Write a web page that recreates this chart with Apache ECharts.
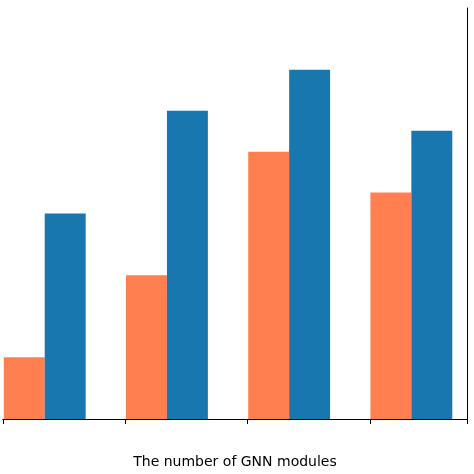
<!DOCTYPE html><html><head><meta charset="utf-8"><script src="https://cdn.jsdelivr.net/npm/echarts@6/dist/echarts.min.js"></script></head><body style="margin:0"><div id="c" style="width:474px;height:474px"></div><script>
const categories=[1,2,3,4];
const tickLabels=['1','2','3','4'];
const seriesA=[62,144,268,227];
const seriesB=[206,309,350,289];
const c=echarts.init(document.getElementById('c'));
function mk(vals,off,color){return{type:'custom',data:vals.map((v,i)=>[categories[i],v]),renderItem:(p,api)=>{const x=api.value(0),y=api.value(1);const a=api.coord([x+off,y]),b=api.coord([x+off+0.335,0]);return{type:'rect',shape:{x:a[0],y:a[1],width:b[0]-a[0],height:b[1]-a[1]},style:{fill:color}};},encode:{x:0,y:1}};}
const ax={color:'#000',fontSize:14,fontFamily:'DejaVu Sans'};
c.setOption({animation:false,grid:{left:0,right:7,top:8,bottom:54},
xAxis:[{type:'value',min:1-42/123,max:1+425/123,interval:1,position:'bottom',axisLine:{onZero:false,lineStyle:{color:'#000'}},axisTick:{show:true,length:5,lineStyle:{color:'#000'}},splitLine:{show:false},axisLabel:{...ax,margin:8,formatter:v=>Number.isInteger(v)&&v>=1&&v<=4?tickLabels[v-1]:''},name:'The number of GNN modules',nameLocation:'middle',nameGap:36,nameTextStyle:ax},
{type:'value',min:1-42/123,max:1+425/123,position:'top',axisLine:{lineStyle:{color:'#000'}},axisTick:{show:false},axisLabel:{show:false},splitLine:{show:false}}],
yAxis:[{type:'value',min:0,max:412,show:false},{type:'value',min:0,max:412,position:'right',axisLine:{show:true,lineStyle:{color:'#000'}},axisTick:{show:false},axisLabel:{show:false},splitLine:{show:false}}],
series:[mk(seriesA,-0.335,'#FF7F50'),mk(seriesB,0,'#1777AE')]});
</script></body></html>
